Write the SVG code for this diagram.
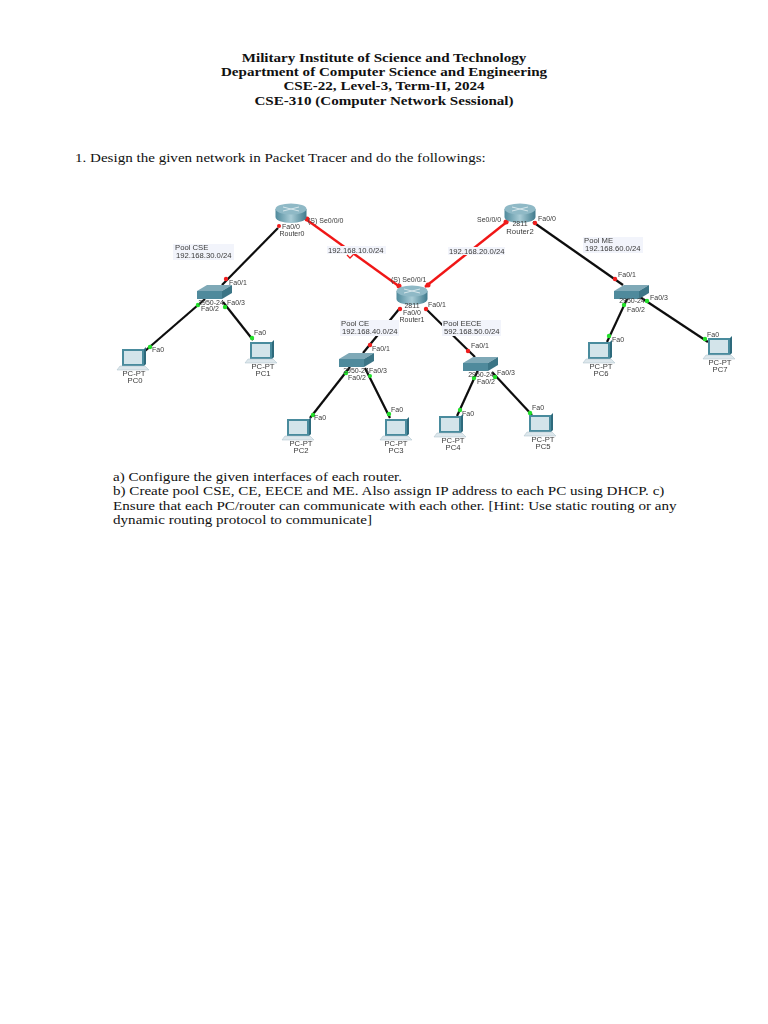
<svg xmlns="http://www.w3.org/2000/svg" width="768" height="1024" viewBox="0 0 768 1024">
<style>
text{font-family:"Liberation Serif","Times New Roman",serif;fill:#111}
.h{font-size:13.3px;font-weight:bold;text-anchor:middle}
.b{font-size:13.3px}
.l text,.n text{font-family:"Liberation Sans",Arial,sans-serif;font-size:7px;fill:#3a3a3a}
.l text.p,.n text.p{font-size:7.700px}
.n text.c{text-anchor:middle}
.bk{stroke:#0c0c0c;stroke-width:2.200;fill:none}
.rd{stroke:#f01818;stroke-width:2.400;fill:none}
.r{fill:#ee1c1c}
.g{fill:#22e02a}
.bg{fill:#f2f4fb}
</style>
<defs>
<linearGradient id="cyl" x1="0" x2="1" y1="0" y2="0"><stop offset="0" stop-color="#4f8a9c"/><stop offset=".5" stop-color="#a9ccd6"/><stop offset="1" stop-color="#3f7a8c"/></linearGradient>
<filter id="soft" x="-2%" y="-2%" width="104%" height="104%"><feGaussianBlur stdDeviation="0.35"/></filter>
<g id="router">
<path d="M-15.500-4V4A15.500 6 0 0 0 15.500 4V-4Z" fill="url(#cyl)"/>
<ellipse cx="0" cy="-4" rx="15.500" ry="5.500" fill="#8fb9c6"/>
<path d="M-8-6 8-2M8-6-8-2" stroke="#d5e6eb" stroke-width="1"/>
</g>
<g id="switch">
<path d="M-17-2-7-8H18L8-2Z" fill="#7fa9b7"/>
<path d="M-17-2H8V6H-17Z" fill="#4f8a9c"/>
<path d="M8-2 18-8V0L8 6Z" fill="#3b7486"/>
</g>
<g id="pc">
<path d="M-12-9H10V8H-12Z" fill="#4a8b9d"/>
<path d="M-10-7H8V6H-10Z" fill="#d3e4ea"/>
<path d="M10-9 12-11V6L10 8Z" fill="#2f6a7c"/>
<path d="M-14 8H11L15 12H-17Z" fill="#dde7ec" stroke="#a9bfc8" stroke-width=".5"/>
</g>
</defs>
<g id="title" transform="translate(384 0) scale(1.135 1)">
<text class="h" x="0" y="62">Military Institute of Science and Technology</text>
<text class="h" x="0" y="76">Department of Computer Science and Engineering</text>
<text class="h" x="0" y="90">CSE-22, Level-3, Term-II, 2024</text>
<text class="h" x="0" y="105">CSE-310 (Computer Network Sessional)</text>
</g>
<g transform="translate(75 0) scale(1.133 1)"><text class="b" x="0" y="162">1. Design the given network in Packet Tracer and do the followings:</text></g>
<g filter="url(#soft)">
<g id="connectors" class="l">
<path class="bk" d="M278 228 222 285"/>
<path class="bk" d="M205 299 145 351"/>
<path class="bk" d="M223 302 253 340"/>
<path class="bk" d="M400 308 363 353"/>
<path class="bk" d="M350 367 310 418"/>
<path class="bk" d="M365 368 390 418"/>
<path class="bk" d="M425 308 475 357"/>
<path class="bk" d="M478 370 457 416"/>
<path class="bk" d="M492 372 532 415"/>
<path class="bk" d="M533 222 623 285"/>
<path class="bk" d="M628 297 607 342"/>
<path class="bk" d="M640 297 708 342"/>
<path class="rd" d="M307 220 400 287"/>
<path class="rd" d="M425 287 508 221"/>
<circle class="r" cx="279" cy="226" r="2"/><circle class="r" cx="226" cy="279" r="2.200"/>
<circle class="r" cx="307" cy="219" r="2.500"/><circle class="r" cx="399" cy="286" r="2.500"/>
<circle class="r" cx="428" cy="285" r="2.500"/><circle class="r" cx="506" cy="222" r="2.500"/>
<circle class="r" cx="535" cy="223" r="2.200"/><circle class="r" cx="615" cy="279" r="2.200"/>
<circle class="r" cx="400" cy="309" r="2.200"/><circle class="r" cx="370" cy="345" r="2.200"/>
<circle class="r" cx="426" cy="309" r="2.200"/><circle class="r" cx="468" cy="351" r="2.200"/>
<circle class="g" cx="198" cy="305" r="2.200"/><circle class="g" cx="150" cy="347" r="2.200"/>
<circle class="g" cx="225" cy="307" r="2.200"/><circle class="g" cx="252" cy="338" r="2.200"/>
<circle class="g" cx="346" cy="373" r="2.200"/><circle class="g" cx="313" cy="415" r="2.200"/>
<circle class="g" cx="370" cy="376" r="2"/><circle class="g" cx="389" cy="414" r="2.200"/>
<circle class="g" cx="474" cy="378" r="2.200"/><circle class="g" cx="460" cy="410" r="2.200"/>
<circle class="g" cx="495" cy="377" r="2.200"/><circle class="g" cx="530" cy="413" r="2.200"/>
<circle class="g" cx="624" cy="305" r="2.200"/><circle class="g" cx="609" cy="336" r="2.200"/>
<circle class="g" cx="647" cy="301" r="2.200"/><circle class="g" cx="705" cy="339" r="2.200"/>
<rect class="bg" x="173" y="244" width="61" height="16"/>
<text class="p" x="175" y="249.500">Pool CSE</text><text class="p" x="176" y="257.500">192.168.30.0/24</text>
<rect class="bg" x="340" y="320" width="59" height="16"/>
<text class="p" x="341" y="326">Pool CE</text><text class="p" x="342" y="334">192.168.40.0/24</text>
<rect class="bg" x="442" y="320" width="59" height="16"/>
<text class="p" x="443" y="326">Pool EECE</text><text class="p" x="444" y="334">592.168.50.0/24</text>
<rect class="bg" x="583" y="237" width="60" height="16"/>
<text class="p" x="584" y="243">Pool ME</text><text class="p" x="585" y="251">192.168.60.0/24</text>
<rect class="bg" x="327" y="246" width="59" height="8"/>
<text class="p" x="328" y="252.500">192.168.10.0/24</text>
<rect class="bg" x="448" y="247" width="57" height="8"/>
<text class="p" x="449" y="253.500">192.168.20.0/24</text>
<path d="M347 255 350 258 353 255" stroke="#f01818" stroke-width="1.300" fill="none"/>
<text x="308" y="223">(S) Se0/0/0</text>
<text x="391" y="282">(S) Se0/0/1</text>
<text x="477" y="222">Se0/0/0</text>
<text x="538" y="221">Fa0/0</text>
<text x="282" y="229">Fa0/0</text>
<text x="229" y="285">Fa0/1</text>
<text x="227" y="305">Fa0/3</text>
<text x="201" y="311">Fa0/2</text>
<text x="152" y="352">Fa0</text>
<text x="254" y="335">Fa0</text>
<text x="372" y="351">Fa0/1</text>
<text x="369" y="373">Fa0/3</text>
<text x="348" y="380">Fa0/2</text>
<text x="314" y="420">Fa0</text>
<text x="391" y="412">Fa0</text>
<text x="403" y="315">Fa0/0</text>
<text x="428" y="307">Fa0/1</text>
<text x="471" y="348">Fa0/1</text>
<text x="497" y="375">Fa0/3</text>
<text x="477" y="384">Fa0/2</text>
<text x="462" y="416">Fa0</text>
<text x="532" y="410">Fa0</text>
<text x="618" y="277">Fa0/1</text>
<text x="650" y="300">Fa0/3</text>
<text x="627" y="312">Fa0/2</text>
<text x="612" y="342">Fa0</text>
<text x="707" y="337">Fa0</text>
</g>
<g id="router0" class="n"><use href="#router" x="291" y="213"/><text class="c" x="292" y="236">Router0</text></g>
<g id="router1" class="n"><use href="#router" x="412" y="295"/><text class="c" x="412" y="308">2811</text><text class="c" x="412" y="322">Router1</text></g>
<g id="router2" class="n"><use href="#router" x="520" y="213"/><text class="c" x="520" y="226">2811</text><text class="c p" x="520" y="234">Router2</text></g>
<g id="switch0" class="n"><use href="#switch" x="214" y="293"/><text class="c" x="211" y="305">2950-24</text></g>
<g id="switch1" class="n"><use href="#switch" x="356" y="361"/><text class="c" x="356" y="373">2950-24</text></g>
<g id="switch2" class="n"><use href="#switch" x="480" y="365"/><text class="c" x="481" y="377">2950-24</text></g>
<g id="switch3" class="n"><use href="#switch" x="631" y="293"/><text class="c" x="632" y="303">2950-24</text></g>
<g id="pc0" class="n"><use href="#pc" x="134" y="358"/><text class="c p" x="134" y="376">PC-PT</text><text class="c p" x="135" y="383">PC0</text></g>
<g id="pc1" class="n"><use href="#pc" x="262" y="351"/><text class="c p" x="263" y="369">PC-PT</text><text class="c p" x="263" y="376">PC1</text></g>
<g id="pc2" class="n"><use href="#pc" x="299" y="428"/><text class="c p" x="301" y="446">PC-PT</text><text class="c p" x="301" y="453">PC2</text></g>
<g id="pc3" class="n"><use href="#pc" x="397" y="428"/><text class="c p" x="396" y="446">PC-PT</text><text class="c p" x="396" y="453">PC3</text></g>
<g id="pc4" class="n"><use href="#pc" x="451" y="425"/><text class="c p" x="453" y="443">PC-PT</text><text class="c p" x="453" y="450">PC4</text></g>
<g id="pc5" class="n"><use href="#pc" x="541" y="424"/><text class="c p" x="543" y="442">PC-PT</text><text class="c p" x="543" y="449">PC5</text></g>
<g id="pc6" class="n"><use href="#pc" x="600" y="351"/><text class="c p" x="601" y="369">PC-PT</text><text class="c p" x="601" y="376">PC6</text></g>
<g id="pc7" class="n"><use href="#pc" x="720" y="347"/><text class="c p" x="720" y="365">PC-PT</text><text class="c p" x="720" y="372">PC7</text></g>
</g>
<g id="notes" transform="translate(113 0) scale(1.135 1)">
<text class="b" x="0" y="481">a) Configure the given interfaces of each router.</text>
<text class="b" x="0" y="495">b) Create pool CSE, CE, EECE and ME. Also assign IP address to each PC using DHCP. c)</text>
<text class="b" x="0" y="510">Ensure that each PC/router can communicate with each other. [Hint: Use static routing or any</text>
<text class="b" x="0" y="524">dynamic routing protocol to communicate]</text>
</g>
</svg>
